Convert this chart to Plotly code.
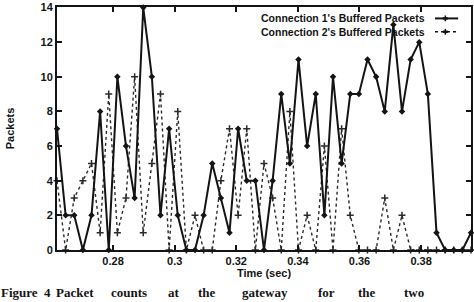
import plotly.graph_objects as go

# sample times (sec)
times = [0.2618, 0.2646, 0.2674, 0.2702, 0.2730, 0.2758, 0.2786, 0.2814, 0.2842, 0.2870,
         0.2898, 0.2926, 0.2954, 0.2982, 0.3010, 0.3038, 0.3066, 0.3094, 0.3122, 0.3150,
         0.3178, 0.3206, 0.3234, 0.3262, 0.3290, 0.3318, 0.3346, 0.3374, 0.3402, 0.3430,
         0.3458, 0.3486, 0.3514, 0.3542, 0.3570, 0.3598, 0.3626, 0.3654, 0.3682, 0.3710,
         0.3738, 0.3766, 0.3794, 0.3822, 0.3850, 0.3878, 0.3906, 0.3934, 0.3962]

conn1 = [7, 2, 2, 0, 2, 8, 0, 10, 6, 3,
         14, 10, 2, 7, 2, 0, 0, 2, 5, 3,
         1, 7, 4, 4, 0, 4, 9, 5, 11, 6,
         9, 2, 10, 5, 9, 9, 11, 10, 8, 13,
         8, 11, 12, 9, 1, 0, 0, 0, 1]

conn2 = [4, 0, 3, 4, 5, 1, 9, 1, 3, 10,
         1, 5, 9, 0, 8, 0, 2, 0, 0, 4,
         7, 2, 7, 0, 5, 3, 0, 8, 0, 2,
         0, 6, 0, 7, 2, 0, 0, 0, 3, 0,
         2, 0, 0, 0, 0, 0, 0, 0, 0]

name1 = "Connection 1's Buffered Packets"
name2 = "Connection 2's Buffered Packets"
x_ticks = [0.28, 0.30, 0.32, 0.34, 0.36, 0.38]
x_ticklabels = ["0.28", "0.3", "0.32", "0.34", "0.36", "0.38"]
y_ticks = [0, 2, 4, 6, 8, 10, 12, 14]
caption_words = ["Figure", "4", "Packet", "counts", "at", "the", "gateway", "for", "the", "two"]
caption_x = [0, 43, 55, 110, 168, 198, 242, 318, 358, 405]

INK = "#141414"
FONT = "Liberation Sans"

fig = go.Figure()
fig.add_trace(go.Scatter(
    x=times, y=conn2, mode="lines+markers", name=name2,
    line=dict(color="#2a2a2a", width=1.4, dash="dot"),
    marker=dict(symbol="cross-thin", size=5, line=dict(color="#2a2a2a", width=1.5)),
    showlegend=False, cliponaxis=False))
fig.add_trace(go.Scatter(
    x=times, y=conn1, mode="lines+markers", name=name1,
    line=dict(color=INK, width=2),
    marker=dict(symbol="diamond", size=5, color=INK),
    showlegend=False, cliponaxis=False))

axis_common = dict(showline=True, linecolor=INK, linewidth=2, mirror="ticks",
                   ticks="inside", ticklen=5, tickcolor=INK, tickwidth=1.5,
                   showgrid=False, zeroline=False, ticklabeloverflow="allow",
                   tickfont=dict(family=FONT, size=11, color=INK, weight="bold"))

fig.update_layout(
    width=474, height=302,
    margin=dict(l=57, r=1, t=2, b=52),
    paper_bgcolor="white", plot_bgcolor="white",
    xaxis=dict(range=[times[0], times[-1]], tickvals=x_ticks, ticktext=x_ticklabels,
               title=dict(text="Time (sec)", standoff=2,
                          font=dict(family=FONT, size=11, color=INK, weight="bold")),
               **axis_common),
    yaxis=dict(range=[0, 14.03], tickvals=y_ticks,
               title=dict(text="Packets", standoff=24,
                          font=dict(family=FONT, size=11, color=INK, weight="bold")),
               **axis_common),
)

# legend (gnuplot style: text left, sample right)
fig.add_annotation(xref="paper", yref="paper", x=0.892, y=0.926, xanchor="right",
                   yanchor="middle", align="right", text=name1 + "<br>" + name2,
                   showarrow=False, borderpad=0,
                   font=dict(family=FONT, size=10.5, color=INK, weight="bold"))
leg_rows = [(0.953, "solid"), (0.898, "dot")]
for yy, dash in leg_rows:
    fig.add_shape(type="line", xref="paper", yref="paper", x0=0.913, x1=0.969, y0=yy, y1=yy,
                  line=dict(color=INK, width=2 if dash == "solid" else 1.4, dash=dash))
    fig.add_shape(type="line", xref="paper", yref="paper", x0=0.932, x1=0.944, y0=yy, y1=yy,
                  line=dict(color=INK, width=2.5))
    fig.add_shape(type="line", xref="paper", yref="paper", x0=0.938, x1=0.938,
                  y0=yy - 0.012, y1=yy + 0.012, line=dict(color=INK, width=1.5))

# caption
for w, px in zip(caption_words, caption_x):
    fig.add_annotation(xref="paper", yref="paper", x=(px - 57) / 416, y=-0.173,
                       xanchor="left", yanchor="middle", text=w, showarrow=False,
                       borderpad=0,
                       font=dict(family="Liberation Serif", size=13, color=INK, weight="bold"))

fig.write_html("out.html")
